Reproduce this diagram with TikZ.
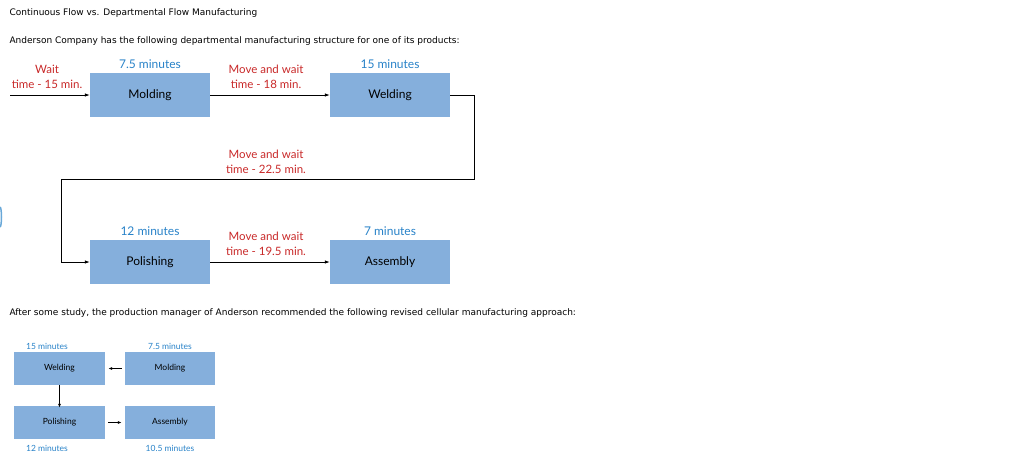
\documentclass[tikz,border=0pt]{standalone}
\usetikzlibrary{arrows.meta}
\usepackage{fontspec}
\setmainfont{DejaVu Sans}
\newfontfamily\lbl{Lato}
\definecolor{boxb}{RGB}{133,175,220}
\definecolor{redt}{RGB}{200,40,40}
\definecolor{bluet}{RGB}{40,130,200}
\begin{document}
\begin{tikzpicture}[x=1pt,y=-1pt,
 box/.style={fill=boxb,draw=none,inner sep=0pt,font=\lbl\fontsize{12}{13}\selectfont},
 sbox/.style={fill=boxb,draw=none,inner sep=0pt,font=\lbl\fontsize{8.5}{9}\selectfont},
 rt/.style={text=redt,font=\lbl\fontsize{11.5}{14.5}\selectfont,align=center},
 bt/.style={text=bluet,font=\lbl\fontsize{12}{13}\selectfont},
 sbt/.style={text=bluet,font=\lbl\fontsize{8.5}{9}\selectfont},
 txt/.style={anchor=west,font=\fontsize{9}{10}\selectfont},
 ar/.style={draw=black,line width=0.8pt,-{Latex[length=5pt,width=3.5pt]}},
 sar/.style={draw=black,line width=0.8pt,-{Latex[length=4pt,width=3pt]}}]
\useasboundingbox (0,0) rectangle (1024,466);
\node[txt] (t1) at (6,13) {Continuous Flow vs. Departmental Flow Manufacturing};
\node[txt] (t2) at (6,41) {Anderson Company has the following departmental manufacturing structure for one of its products:};
\node[txt] (t3) at (6,313) {After some study, the production manager of Anderson recommended the following revised cellular manufacturing approach:};
\node[box,minimum width=120,minimum height=44] (mo) at (150,95) {Molding};
\node[box,minimum width=120,minimum height=44] (we) at (390,95) {Welding};
\node[box,minimum width=120,minimum height=44] (po) at (150,262) {Polishing};
\node[box,minimum width=120,minimum height=44] (as) at (390,262) {Assembly};
\node[bt] (l1) at (150,64) {7.5 minutes};
\node[bt] (l2) at (390,64) {15 minutes};
\node[bt] (l3) at (150,231) {12 minutes};
\node[bt] (l4) at (390,231) {7 minutes};
\node[rt] (w0) at (47,77) {Wait\\time - 15 min.};
\node[rt] (w1) at (266,77) {Move and wait\\time - 18 min.};
\node[rt] (w2) at (266,162) {Move and wait\\time - 22.5 min.};
\node[rt] (w3) at (266,244) {Move and wait\\time - 19.5 min.};
\coordinate (s) at (10,95);
\draw[ar] (s) -- (mo);
\draw[ar] (mo) -- (we);
\draw[ar] (we.east) -- ++(24,0) |- (61,179) |- (po.west);
\draw[ar] (po) -- (as);
\draw[bluet!70,line width=1.5pt] (0,227) arc (90:-90:1.5 and 10);
\node[sbox,minimum width=91,minimum height=33] (swe) at (59.5,368.5) {Welding};
\node[sbox,minimum width=90,minimum height=33] (smo) at (170,368.5) {Molding};
\node[sbox,minimum width=91,minimum height=33] (spo) at (59.5,422.5) {Polishing};
\node[sbox,minimum width=90,minimum height=33] (sas) at (170,422.5) {Assembly};
\node[sbt] at (47,346) {15 minutes};
\node[sbt] at (170,346) {7.5 minutes};
\node[sbt] at (47,448) {12 minutes};
\node[sbt] at (170,448) {10.5 minutes};
\draw[sar] ([xshift=-3pt]smo.west) -- ([xshift=3pt]swe.east);
\draw[sar] (swe.south) -- ([yshift=-2pt]spo.north);
\draw[sar] ([xshift=3pt]spo.east) -- ([xshift=-3pt]sas.west);
\end{tikzpicture}
\end{document}
